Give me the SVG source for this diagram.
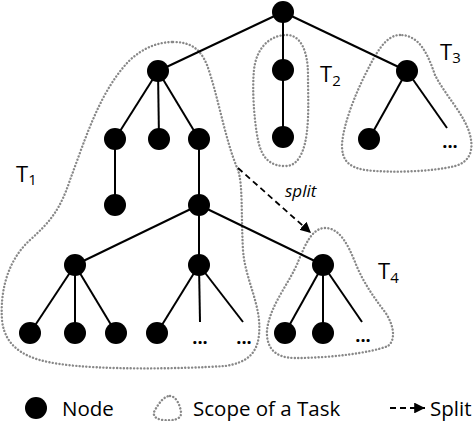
<svg xmlns="http://www.w3.org/2000/svg" width="474" height="421" viewBox="0 0 474 421">
<defs>
<style>
.n{fill:#000}
.e{stroke:#000;stroke-width:2;fill:none}
.scope{fill:none;stroke:#888;stroke-width:2.4;stroke-dasharray:0.1 3.3;stroke-linecap:round}
.split{stroke:#000;stroke-width:1.8;fill:none;stroke-dasharray:6 4}
.t{font-family:"Open Sans","Noto Sans",sans-serif;font-size:22px;fill:#000}
.sub{font-family:"Open Sans","Noto Sans",sans-serif;font-size:15px;fill:#000}
.dots{font-family:"Open Sans","Noto Sans",sans-serif;font-size:18px;font-weight:bold;fill:#000;text-anchor:middle}
.lg{font-family:"Open Sans","Noto Sans",sans-serif;font-size:20.5px;fill:#000}
</style>
<marker id="ah" viewBox="0 0 10 10" refX="10" refY="5" markerWidth="6" markerHeight="6" markerUnits="strokeWidth" orient="auto">
<path d="M0,0 L10,5 L0,10 Z" fill="#000"/>
</marker>
</defs>
<rect width="474" height="421" fill="#fff"/>

<g id="scopes">
<path id="scope-T1" class="scope" d="M173,42 C190,42 200,48 207,65 C218,95 225,140 238,170 C243,185 241,215 243,250 C245,280 262,305 259,335 C257,355 245,363 225,366 C180,369 100,370 60,364 C30,360 5,350 2,320 C0,290 8,260 30,240 C50,222 60,210 70,180 C85,140 100,90 130,60 C143,48 158,42 173,42 Z"/>
<path id="scope-T2" class="scope" d="M287,35 C300,35 308,50 308,75 C308,100 310,130 303,150 C298,163 292,166 285,166 C272,166 262,160 258,140 C254,120 252,90 254,70 C256,50 268,35 287,35 Z"/>
<path id="scope-T3" class="scope" d="M400,35 C385,35 375,55 365,75 C355,95 343,125 342,145 C342,160 348,167 365,170 C390,173 430,172 455,166 C470,162 474,150 470,135 C465,115 445,95 435,75 C428,55 420,35 400,35 Z"/>
<path id="scope-T4" class="scope" d="M325,228 C312,228 305,245 298,262 C290,282 270,305 267,330 C266,348 275,358 295,358 C330,358 370,353 388,346 C396,340 394,325 385,312 C372,295 362,280 355,262 C348,245 340,228 325,228 Z"/>
</g>

<g id="connectors">
<line class="e" x1="283" y1="12" x2="158" y2="71"/>
<line class="e" x1="283" y1="12" x2="283" y2="70"/>
<line class="e" x1="283" y1="12" x2="407" y2="71"/>
<line class="e" x1="158" y1="71" x2="115" y2="139"/>
<line class="e" x1="158" y1="71" x2="159" y2="139"/>
<line class="e" x1="158" y1="71" x2="199" y2="139"/>
<line class="e" x1="115" y1="139" x2="115" y2="205"/>
<line class="e" x1="199" y1="139" x2="199" y2="205"/>
<line class="e" x1="199" y1="205" x2="75" y2="265"/>
<line class="e" x1="199" y1="205" x2="199" y2="265"/>
<line class="e" x1="199" y1="205" x2="323" y2="265"/>
<line class="e" x1="75" y1="265" x2="30" y2="333"/>
<line class="e" x1="75" y1="265" x2="75" y2="333"/>
<line class="e" x1="75" y1="265" x2="116" y2="333"/>
<line class="e" x1="199" y1="265" x2="157" y2="333"/>
<line class="e" x1="199" y1="265" x2="200" y2="322"/>
<line class="e" x1="199" y1="265" x2="243" y2="322"/>
<line class="e" x1="283" y1="70" x2="283" y2="137"/>
<line class="e" x1="407" y1="71" x2="369" y2="139"/>
<line class="e" x1="407" y1="71" x2="447" y2="128"/>
<line class="e" x1="323" y1="265" x2="285" y2="333"/>
<line class="e" x1="323" y1="265" x2="323" y2="333"/>
<line class="e" x1="323" y1="265" x2="362" y2="322"/>
<line id="split-arrow" class="split" x1="238" y1="168" x2="311" y2="233" marker-end="url(#ah)"/>
</g>

<g id="nodes">
<circle id="root" class="n" cx="283" cy="12" r="11"/>
<circle id="t1-root" class="n" cx="158" cy="71" r="11"/>
<circle id="t1-a" class="n" cx="115" cy="139" r="11"/>
<circle id="t1-b" class="n" cx="159" cy="139" r="11"/>
<circle id="t1-c" class="n" cx="199" cy="139" r="11"/>
<circle id="t1-a1" class="n" cx="115" cy="205" r="11"/>
<circle id="t1-c1" class="n" cx="199" cy="205" r="11"/>
<circle id="t1-d" class="n" cx="75" cy="265" r="11"/>
<circle id="t1-e" class="n" cx="199" cy="265" r="11"/>
<circle id="t1-d1" class="n" cx="30" cy="333" r="11"/>
<circle id="t1-d2" class="n" cx="75" cy="333" r="11"/>
<circle id="t1-d3" class="n" cx="116" cy="333" r="11"/>
<circle id="t1-e1" class="n" cx="157" cy="333" r="11"/>
<circle id="t2-root" class="n" cx="283" cy="70" r="11"/>
<circle id="t2-a" class="n" cx="283" cy="137" r="11"/>
<circle id="t3-root" class="n" cx="407" cy="71" r="11"/>
<circle id="t3-a" class="n" cx="369" cy="139" r="11"/>
<circle id="t4-root" class="n" cx="323" cy="265" r="11"/>
<circle id="t4-a" class="n" cx="285" cy="333" r="11"/>
<circle id="t4-b" class="n" cx="323" cy="333" r="11"/>
</g>

<g id="labels">
<text class="dots" x="200" y="344">...</text>
<text class="dots" x="244" y="344">...</text>
<text class="dots" x="363" y="342">...</text>
<text class="dots" x="450" y="148">...</text>
<text class="t" x="16" y="182">T<tspan class="sub" dy="3">1</tspan></text>
<text class="t" x="320" y="82">T<tspan class="sub" dy="4">2</tspan></text>
<text class="t" x="440" y="60">T<tspan class="sub" dy="3">3</tspan></text>
<text class="t" x="378" y="279">T<tspan class="sub" dy="4">4</tspan></text>
<text x="285" y="197" style="font-family:'Open Sans','Noto Sans',sans-serif;font-size:17px;font-style:italic">split</text>
</g>

<g id="legend">
<circle class="n" cx="36" cy="408" r="11"/>
<text class="lg" x="62" y="416">Node</text>
<path class="scope" d="M170,396 C176,396 180,405 181,412 C182,420 172,421 163,420 C155,419 152,415 155,410 C159,403 164,396 170,396 Z"/>
<text class="lg" x="193" y="416">Scope of a Task</text>
<line class="split" x1="390" y1="408" x2="425" y2="408" stroke-dasharray="4 3" marker-end="url(#ah)"/>
<text class="lg" x="430" y="416">Split</text>
</g>
</svg>
